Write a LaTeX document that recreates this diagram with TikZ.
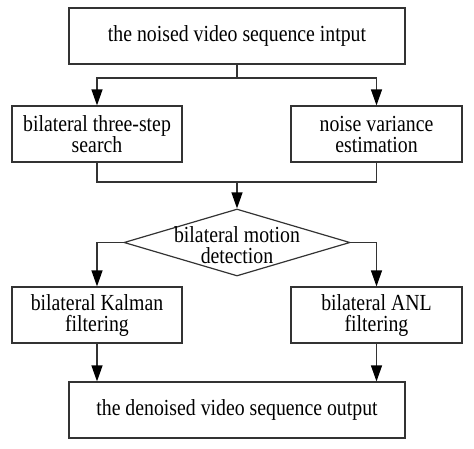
\documentclass[tikz,border=0pt]{standalone}
\usepackage{fontspec}
\setmainfont{Liberation Serif}[FakeStretch=0.86]
\usetikzlibrary{arrows.meta,shapes.geometric}
\begin{document}
\begin{tikzpicture}[x=1pt,y=-1pt,
  every node/.style={font=\fontsize{23}{21}\selectfont, text=black},
  procbox/.style={draw=black!80, line width=1.2pt, inner sep=0pt, align=center, minimum height=56pt},
  decbox/.style={draw=black!80, line width=1.2pt, shape=diamond, inner sep=0pt, minimum width=226pt, minimum height=67pt},
  arr/.style={draw=black!80, line width=1.2pt, -{Triangle[length=16pt,width=11pt,color=black]}},
  ln/.style={draw=black!80, line width=1.2pt}]
\useasboundingbox (0,0) rectangle (474,448);
\node[procbox, minimum width=336pt] (top) at (237,36) {the noised video sequence intput};
\node[procbox, minimum width=170pt] (l1) at (97,134) {bilateral three-step\\search};
\node[procbox, minimum width=171pt] (r1) at (376.5,134) {noise variance\\estimation};
\node[decbox] (dia) at (237,242.5) {};
\node[align=center] (dlab) at (237,245) {bilateral motion\\detection};
\node[procbox, minimum width=170pt] (l2) at (97,315) {bilateral Kalman\\filtering};
\node[procbox, minimum width=171pt] (r2) at (376.5,315) {bilateral ANL\\filtering};
\node[procbox, minimum width=336pt] (bot) at (237,410) {the denoised video sequence output};
\coordinate (j1) at (237,78);
\coordinate (j2) at (237,182);
\draw[ln] (top.south) -- (j1);
\draw[arr] (j1) -| (l1.north);
\draw[arr] (j1) -| (r1.north);
\draw[ln] (l1.south) |- (j2);
\draw[ln] (r1.south) |- (j2);
\draw[arr] (j2) -- (dia.north);
\draw[arr] (dia.west) -| (l2.north);
\draw[arr] (dia.east) -| (r2.north);
\draw[arr] (l2.south) -- (l2.south |- bot.north);
\draw[arr] (r2.south) -- (r2.south |- bot.north);
\end{tikzpicture}
\end{document}
